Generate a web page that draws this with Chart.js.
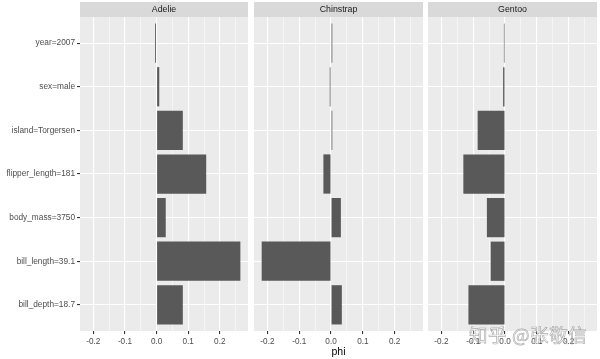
<!DOCTYPE html>
<html>
<head>
<meta charset="utf-8">
<script src="https://cdn.jsdelivr.net/npm/chart.js@4.4.1/dist/chart.umd.min.js"></script>
<style>
    html, body { margin: 0; padding: 0; background: #ffffff; }
    body { width: 600px; height: 359px; position: relative; overflow: hidden; font-family: "Liberation Sans", Arial, sans-serif; }
    .facet { position: absolute; top: 0; height: 359px; }
    #mark { position: absolute; left: 469px; top: 321px; font: 18.5px/26px "Noto Sans CJK SC", sans-serif; color: rgba(255,255,255,0.7);
            -webkit-text-stroke: 0.7px rgba(110,110,110,0.55); letter-spacing: 0.6px; white-space: nowrap; pointer-events: none; }
</style>
</head>
<body>
<div class="facet" style="left:0;width:248px"><canvas id="chartAdelie"></canvas></div>
<div class="facet" style="left:254px;width:169px"><canvas id="chartChinstrap"></canvas></div>
<div class="facet" style="left:428px;width:169px"><canvas id="chartGentoo"></canvas></div>
<div id="mark">知乎 @张敬信</div>
<script>
"use strict";

// data
const features = ['year=2007', 'sex=male', 'island=Torgersen', 'flipper_length=181', 'body_mass=3750', 'bill_length=39.1', 'bill_depth=18.7'];
const species = ['Adelie', 'Chinstrap', 'Gentoo'];
const phiAdelie = [-0.0045, 0.0085, 0.083, 0.157, 0.029, 0.265, 0.083];
const phiChinstrap = [0.004, -0.004, 0.004, -0.024, 0.031, -0.218, 0.034];
const phiGentoo = [-0.0035, -0.006, -0.086, -0.131, -0.057, -0.045, -0.115];
const xTicks = [-0.2, -0.1, 0.0, 0.1, 0.2];
const xTitle = 'phi';

const FONT = '"Liberation Sans", Arial, sans-serif';

// same x range for every facet, ggplot style 5% expansion
const allPhi = [...phiAdelie, ...phiChinstrap, ...phiGentoo, 0];
const lo = Math.min(...allPhi), hi = Math.max(...allPhi);
const X_MIN = lo - (hi - lo) * 0.05;
const X_MAX = hi + (hi - lo) * 0.05;

function isMajor(v) {
    return xTicks.some(t => Math.abs(t - v) < 1e-6);
}

// grey panel + strip on top (+ axis title for the middle one)
const facetPlugin = {
    id: 'facet',
    beforeDraw(chart, args, opts) {
        const { ctx, chartArea: a } = chart;
        ctx.save();
        ctx.fillStyle = '#EBEBEB';
        ctx.fillRect(a.left, a.top, a.right - a.left, a.bottom - a.top);
        ctx.fillStyle = '#D9D9D9';
        ctx.fillRect(a.left, 2, a.right - a.left, a.top - 2);
        ctx.fillStyle = '#1A1A1A';
        ctx.font = `8.8px ${FONT}`;
        ctx.textAlign = 'center';
        ctx.textBaseline = 'middle';
        ctx.fillText(opts.title, (a.left + a.right) / 2, (2 + a.top) / 2 + 0.5);
        if (opts.showXTitle) {
            ctx.fillStyle = '#000000';
            ctx.font = `10.5px ${FONT}`;
            ctx.fillText(xTitle, (a.left + a.right) / 2, 352);
        }
        ctx.restore();
    }
};

function renderFacet(canvasId, name, values, showY, showXTitle) {
    const ctx = document.getElementById(canvasId)?.getContext('2d');
    if (!ctx) return;

    new Chart(ctx, {
        type: 'bar',
        data: {
            datasets: [{
                label: name,
                data: values.map((v, i) => ({ x: v, y: i })),
                backgroundColor: '#595959',
                borderWidth: 0,
                barPercentage: 0.9,
                categoryPercentage: 1.0
            }]
        },
        options: {
            indexAxis: 'y',
            responsive: true, maintainAspectRatio: false,
            animation: false,
            layout: { padding: { top: 17, left: 0, right: 0, bottom: 0 } },
            plugins: { legend: { display: false }, tooltip: { enabled: false }, facet: { title: name, showXTitle } },
            scales: {
                x: {
                    type: 'linear', min: X_MIN, max: X_MAX,
                    afterFit: s => { s.height = 28; },
                    border: { display: false },
                    grid: {
                        color: '#FFFFFF',
                        lineWidth: c => (c.tick && isMajor(c.tick.value)) ? 1.1 : 0.5,
                        tickLength: 3,
                        tickColor: c => (c.tick && isMajor(c.tick.value)) ? '#333333' : 'rgba(0,0,0,0)'
                    },
                    ticks: {
                        stepSize: 0.05, includeBounds: false, maxTicksLimit: 20, autoSkip: false, maxRotation: 0,
                        padding: 3, color: '#4D4D4D', font: { family: FONT, size: 8.2 },
                        callback: v => isMajor(v) ? v.toFixed(1) : ''
                    }
                },
                y: {
                    type: 'linear', reverse: true, min: -0.6, max: features.length - 0.4,
                    offset: false,
                    afterFit: s => { s.width = showY ? 80 : 0; },
                    border: { display: false },
                    grid: { offset: false, color: '#FFFFFF', lineWidth: 1.1, drawTicks: showY, tickLength: 3, tickColor: '#333333' },
                    ticks: {
                        display: showY, stepSize: 1, includeBounds: false,
                        padding: 2, color: '#4D4D4D', font: { family: FONT, size: 8.3 },
                        callback: v => features[v] ?? ''
                    }
                }
            }
        },
        plugins: [facetPlugin]
    });
}

renderFacet('chartAdelie', species[0], phiAdelie, true, false);
renderFacet('chartChinstrap', species[1], phiChinstrap, false, true);
renderFacet('chartGentoo', species[2], phiGentoo, false, false);
</script>
</body>
</html>
